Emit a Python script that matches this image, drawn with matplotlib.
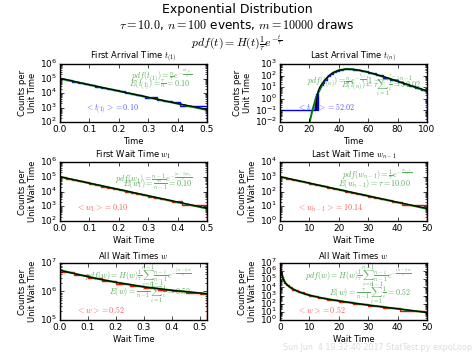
import matplotlib
matplotlib.use('Agg')
import matplotlib.pyplot as plt

plt.style.use('classic')
plt.rcParams['figure.facecolor'] = 'white'
plt.rcParams['savefig.facecolor'] = 'white'
plt.rcParams['font.family'] = 'DejaVu Sans'
plt.rcParams['mathtext.fontset'] = 'cm'
plt.rcParams['xtick.labelsize'] = 6.5
plt.rcParams['ytick.labelsize'] = 6.5
plt.rcParams['xtick.major.size'] = 3
plt.rcParams['ytick.major.size'] = 3
plt.rcParams['xtick.minor.size'] = 1.5
plt.rcParams['ytick.minor.size'] = 1.5
plt.rcParams['xtick.major.pad'] = 2
plt.rcParams['ytick.major.pad'] = 2

# first arrival time t_(1)
fa_edges = [0, 0.02, 0.04, 0.06, 0.08, 0.10, 0.12, 0.14, 0.16, 0.18, 0.20, 0.22, 0.24,
            0.26, 0.28, 0.29, 0.31, 0.33, 0.35, 0.38, 0.41, 0.5]
fa_hist = [92000, 73000, 61000, 50000, 40000, 33500, 27000, 22500, 18000, 15500, 13000,
           10000, 8300, 6800, 5800, 4300, 5600, 3500, 3000, 2300, 1300]
fa_x = [0, 0.1, 0.2, 0.3, 0.4, 0.5]
fa_pdf = [1.0e5, 3.68e4, 1.35e4, 4.98e3, 1.83e3, 6.74e2]
fa_fit = [1.05e5, 3.7e4, 1.38e4, 5.1e3, 1.9e3, 7.6e2]

# last arrival time t_(n)
la_edges = [0, 23.6, 23.8, 24.0, 24.2, 24.4, 24.6, 24.8, 25.0, 25.2, 25.4, 25.6, 25.8,
            26, 26.5, 27, 28, 29, 30, 32, 34, 36, 38, 40, 43, 46, 50, 55, 60, 65, 70,
            75, 80, 84, 88, 92, 96, 100]
la_hist = [0.1, 0.6, 0.1, 1.2, 0.1, 1.8, 0.1, 2.4, 0.1, 3.0, 0.1, 3.2, 3.2, 4.5, 7,
           10, 15, 25, 45, 85, 140, 200, 260, 320, 360, 360, 315, 235, 160, 110, 68,
           45, 29, 19, 12, 8, 5.5]
la_x = [20, 22, 24, 26, 28, 30, 33, 36, 40, 45, 50, 55, 60, 70, 80, 90, 100]
la_pdf = [7.6e-3, 0.099, 0.74, 3.6, 12.2, 31.7, 89, 176, 294, 368, 345, 273, 194, 83,
          32.5, 12.2, 4.5]
la_fit_x = [24.5, 25, 26, 27, 28, 30, 33, 36, 40, 45, 50, 55, 60, 70, 80, 90, 100]
la_fit = [0.1, 1, 5, 10, 16, 35, 90, 175, 290, 365, 345, 270, 195, 85, 33, 12.5, 5]

# first wait time w_1
fw_edges = [0, 0.02, 0.04, 0.06, 0.08, 0.10, 0.12, 0.14, 0.16, 0.18, 0.20, 0.22, 0.24,
            0.26, 0.28, 0.30, 0.32, 0.34, 0.36, 0.38, 0.40, 0.415, 0.5]
fw_hist = [91000, 72000, 61500, 48500, 41000, 32500, 27800, 21800, 18600, 14600, 12600,
           9800, 8500, 6600, 5700, 4500, 3850, 3000, 2600, 2050, 2300, 1300]
fw_x = [0, 0.1, 0.2, 0.3, 0.4, 0.5]
fw_pdf = [9.9e4, 3.67e4, 1.37e4, 5.06e3, 1.88e3, 6.98e2]
fw_fit = [1.03e5, 3.7e4, 1.4e4, 5.2e3, 1.95e3, 7.5e2]

# last wait time w_(n-1)
lw_edges = [0, 2, 4, 6, 8, 10, 12, 14, 16, 18, 20, 22, 24, 26, 28, 30, 32, 34, 36, 38,
            40, 41.5, 50]
lw_hist = [920, 735, 615, 490, 410, 330, 278, 220, 185, 148, 125, 98, 84, 66, 56, 44,
           38, 30, 25, 20, 21, 12]
lw_x = [0, 10, 20, 30, 40, 50]
lw_pdf = [1000, 368, 135, 49.8, 18.3, 6.74]
lw_fit = [1020, 372, 137, 50.5, 18.8, 7.2]

# all wait times w (short range)
aw_edges = [0, 0.05, 0.10, 0.15, 0.20, 0.25, 0.30, 0.35, 0.40, 0.45, 0.50, 0.525]
aw_hist = [4.9e6, 3.7e6, 2.9e6, 2.3e6, 1.9e6, 1.55e6, 1.3e6, 1.15e6, 1.0e6, 9.0e5, 8.4e5]
aw_x = [0, 0.05, 0.10, 0.15, 0.20, 0.30, 0.40, 0.525]
aw_pdf = [5.6e6, 4.3e6, 3.3e6, 2.6e6, 2.1e6, 1.45e6, 1.1e6, 8.3e5]
aw_fit = [5.5e6, 4.25e6, 3.3e6, 2.6e6, 2.1e6, 1.45e6, 1.1e6, 8.4e5]

# all wait times w (long range)
aw2_edges = [0, 0.25, 0.5, 0.75, 1, 1.5, 2, 3, 4, 6, 8, 10, 13, 16, 20, 25, 30, 35,
             41, 50]
aw2_hist = [3.0e6, 1.2e6, 5.0e5, 2.0e5, 8.0e4, 4.0e4, 2.0e4, 1.0e4, 5.0e3, 2.4e3,
            1.4e3, 850, 500, 300, 170, 95, 52, 32, 13]
aw2_x = [0, 0.25, 0.5, 0.75, 1, 1.5, 2, 3, 4, 6, 8, 10, 13, 16, 20, 25, 30, 35, 40,
         45, 50]
aw2_pdf = [5.5e6, 1.7e6, 8.5e5, 3.0e5, 1.4e5, 5.5e4, 3.0e4, 1.35e4, 7.5e3, 3.3e3,
           1.8e3, 1.1e3, 620, 380, 225, 120, 68, 40, 24, 14, 8.5]


def panel(rect, edges, hist, hcol, px, pdf, fx, fit, xlim, ylim, yticks, xticks,
          title, xlabel, ylabel, texts):
    ax = fig.add_axes(rect)
    ax.stairs(hist, edges, color=hcol, lw=1)
    ax.plot(px, pdf, color='g', lw=1.4)
    ax.plot(fx, fit, color='k', lw=0.8)
    ax.set_yscale('log')
    ax.set_xlim(xlim)
    ax.set_ylim(ylim)
    ax.set_yticks(yticks)
    ax.set_xticks(xticks)
    ax.set_title(title, fontsize=6, pad=3)
    ax.set_xlabel(xlabel, fontsize=6, labelpad=2)
    ax.set_ylabel(ylabel, fontsize=6, labelpad=2)
    for x, y, s, c, ha in texts:
        ax.text(x, y, s, color=c, alpha=0.65, ha=ha, va='center', fontsize=5.8,
                transform=ax.transAxes, zorder=1)
    return ax


fig = plt.figure(figsize=(4.74, 3.55), dpi=100)

fig.text(0.5, 0.972, 'Exponential Distribution', ha='center', va='center', fontsize=9)
fig.text(0.5, 0.930, r'$\tau=10.0$, $n=100$ events, $m=10000$ draws',
         ha='center', va='center', fontsize=8.7)
fig.text(0.5, 0.879, r'$pdf(t)=H(t)\frac{1}{\tau}e^{-\frac{t}{\tau}}$',
         ha='center', va='center', fontsize=8.5)

dec = lambda a, b: [10.0 ** k for k in range(a, b + 1)]
tx = [0.0, 0.1, 0.2, 0.3, 0.4, 0.5]

panel([0.1266, 0.6563, 0.310, 0.1634], fa_edges, fa_hist, 'b', fa_x, fa_pdf, fa_x, fa_fit,
      (0, 0.5), (1e2, 1e6), dec(2, 6), tx,
      r'First Arrival Time $t_{(1)}$', 'Time', 'Counts per\nUnit Time',
      [(0.898, 0.79, r'$pdf(t_{(1)})=\frac{n}{\tau}e^{-\frac{nt_{(1)}}{\tau}}$', 'g', 'right'),
       (0.884, 0.655, r'$E(t_{(1)})=\frac{\tau}{n}=0.10$', 'g', 'right'),
       (0.17, 0.22, r'$<t_{(1)}>=0.10$', 'b', 'left')])

panel([0.5907, 0.6563, 0.310, 0.1634], la_edges, la_hist, 'b', la_x, la_pdf, la_fit_x, la_fit,
      (0, 100), (1e-2, 1e3), dec(-2, 3), [0, 20, 40, 60, 80, 100],
      r'Last Arrival Time $t_{(n)}$', 'Time', 'Counts per\nUnit Time',
      [(0.91, 0.71, r'$pdf(t_{(n)})=\frac{n}{\tau}e^{-\frac{t_{(n)}}{\tau}}[1-e^{-\frac{t_{(n)}}{\tau}}]^{n-1}$', 'g', 'right'),
       (0.96, 0.62, r'$E(t_{(n)})=\tau\sum_{i=1}^{n}\frac{1}{i}=52.02$', 'g', 'right'),
       (0.116, 0.23, r'$<t_{(n)}>=52.02$', 'b', 'left')])

panel([0.1266, 0.3775, 0.310, 0.166], fw_edges, fw_hist, 'r', fw_x, fw_pdf, fw_x, fw_fit,
      (0, 0.5), (1e2, 1e6), dec(2, 6), tx,
      r'First Wait Time $w_1$', 'Wait Time', 'Counts per\nUnit Wait Time',
      [(0.898, 0.73, r'$pdf(w_1)=\frac{n-1}{\tau}e^{-\frac{(n-1)w_1}{\tau}}$', 'g', 'right'),
       (0.898, 0.61, r'$E(w_1)=\frac{\tau}{n-1}=0.10$', 'g', 'right'),
       (0.109, 0.22, r'$<w_1>=0.10$', 'r', 'left')])

panel([0.5907, 0.3775, 0.310, 0.166], lw_edges, lw_hist, 'r', lw_x, lw_pdf, lw_x, lw_fit,
      (0, 50), (1e0, 1e4), dec(0, 4), [0, 10, 20, 30, 40, 50],
      r'Last Wait Time $w_{n-1}$', 'Wait Time', 'Counts per\nUnit Wait Time',
      [(0.898, 0.78, r'$pdf(w_{n-1})=\frac{1}{\tau}e^{-\frac{w_{n-1}}{\tau}}$', 'g', 'right'),
       (0.89, 0.63, r'$E(w_{n-1})=\tau=10.00$', 'g', 'right'),
       (0.116, 0.22, r'$<w_{n-1}>=10.14$', 'r', 'left')])

sum_pdf = r'$pdf(w)=H(w)\frac{1}{\tau}\sum_{i=1}^{n-1}\frac{n-i}{n-1}e^{-\frac{(n-i)w}{\tau}}$'
sum_e = r'$E(w)=\frac{\tau}{n-1}\sum_{i=1}^{n-1}\frac{1}{i}=0.52$'

panel([0.1266, 0.0986, 0.310, 0.1606], aw_edges, aw_hist, 'r', aw_x, aw_pdf, aw_x, aw_fit,
      (0, 0.525), (1e5, 1e7), dec(5, 7), tx,
      r'All Wait Times $w$', 'Wait Time', 'Counts per\nUnit Wait Time',
      [(0.898, 0.77, sum_pdf, 'g', 'right'),
       (0.89, 0.48, sum_e, 'g', 'right'),
       (0.109, 0.175, r'$<w>=0.52$', 'r', 'left')])

panel([0.5907, 0.0986, 0.310, 0.1606], aw2_edges, aw2_hist, 'r', aw2_x, aw2_pdf, aw2_x, aw2_pdf,
      (0, 50), (1e0, 1e7), dec(0, 7), [0, 10, 20, 30, 40, 50],
      r'All Wait Times $w$', 'Wait Time', 'Counts per\nUnit Wait Time',
      [(0.898, 0.77, sum_pdf, 'g', 'right'),
       (0.89, 0.47, sum_e, 'g', 'right'),
       (0.116, 0.175, r'$<w>=0.52$', 'r', 'left')])

fig.text(0.995, 0.022, 'Sun Jun  4 19:32:40 2017 StatTest.py expoLoop',
         color='#dddddd', fontsize=5.8, ha='right', va='center')

fig.savefig('out.png', dpi=100)
